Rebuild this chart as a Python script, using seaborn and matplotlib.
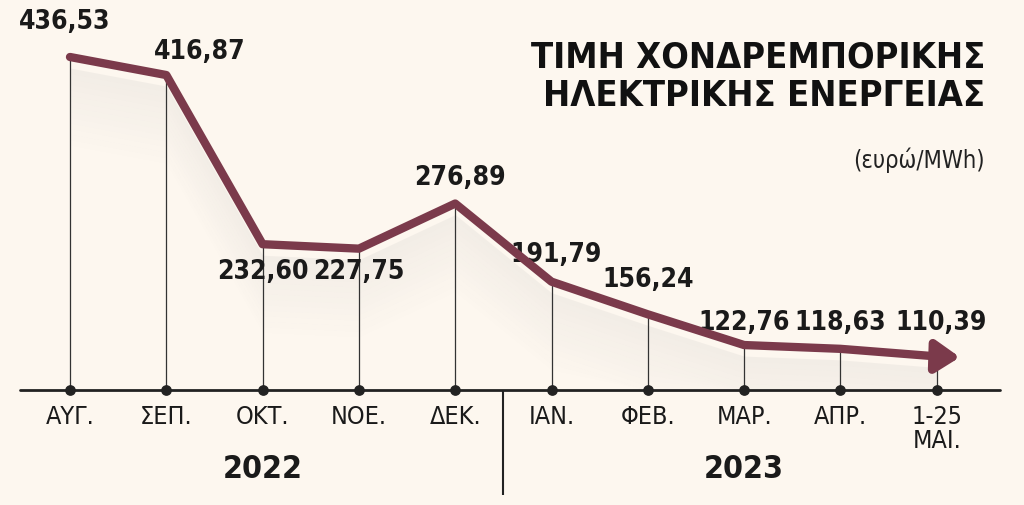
import matplotlib
matplotlib.use("Agg")
import matplotlib.pyplot as plt
import seaborn as sns
import pandas as pd
import numpy as np

months = ["ΑΥΓ.", "ΣΕΠ.", "ΟΚΤ.", "ΝΟΕ.", "ΔΕΚ.", "ΙΑΝ.", "ΦΕΒ.", "ΜΑΡ.", "ΑΠΡ.", "1-25\nΜΑΙ."]
values = [436.53, 416.87, 232.60, 227.75, 276.89, 191.79, 156.24, 122.76, 118.63, 110.39]
labels = ["436,53", "416,87", "232,60", "227,75", "276,89", "191,79", "156,24", "122,76", "118,63", "110,39"]
years = ["2022", "2023"]

sns.set_theme(style="white")
plt.rcParams['font.family'] = ['DejaVu Sans']
plt.rcParams['font.stretch'] = 'condensed'
bg = "#fdf7ef"
col = "#7b3a4b"

fig = plt.figure(figsize=(10.24, 5.05), dpi=100, facecolor=bg)
ax = fig.add_axes([0, 0, 1, 1], facecolor=bg)
ppu = 96.3
ax.set_xlim(-70/ppu, (1024-70)/ppu)
ypx = lambda py: 436.53 - (py-57)/0.918
ax.set_ylim(ypx(505), ypx(0))
base = ypx(390)
x = np.arange(len(values))
v = np.array(values)
df = pd.DataFrame({"x": x, "v": values})

# soft shadow below the line, fading toward the baseline
for i in range(14):
    y = v - 12 - i*6
    ax.fill_between(x, np.maximum(y - 6, base), np.maximum(y, base), color="#9a9a9a",
                    alpha=0.10 * (1 - i/14), lw=0, zorder=1)
ax.vlines(x, base, values, color="#333333", lw=0.9, zorder=2)
ax.axhline(base, xmin=20/1024, xmax=1000/1024, color="#222222", lw=2, zorder=3)
ax.scatter(x, [base]*len(x), color="#222222", s=45, zorder=5)
sns.lineplot(data=df, x="x", y="v", ax=ax, color=col, lw=6, zorder=4)
ax.annotate("", xy=(x[-1]+0.27, values[-1]-1), xytext=(x[-1]-0.05, values[-1]),
            arrowprops=dict(arrowstyle="-|>,head_width=0.8,head_length=1.2", color=col, lw=6), zorder=6)

lab_py = [22, 52, 272, 272, 178, 255, 280, 323, 323, 323]
dxs = [-0.05, 0.35, 0, 0, 0.05, 0.05, 0, 0, 0, 0.05]
fk = dict(fontweight="bold", color="#1a1a1a", fontstretch="condensed")
for i, (xi, t) in enumerate(zip(x, labels)):
    ax.text(xi + dxs[i], ypx(lab_py[i]), t, ha="center", va="center", fontsize=19, **fk)
for xi, m in zip(x, months):
    ax.text(xi, ypx(405), m, ha="center", va="top", fontsize=18, color="#1a1a1a", linespacing=1.0, fontstretch="condensed")
ax.text(2, ypx(470), years[0], ha="center", va="center", fontsize=23, **fk)
ax.text(7, ypx(470), years[1], ha="center", va="center", fontsize=23, **fk)
ax.vlines((503-70)/ppu, ypx(495), base, color="#222222", lw=1.5)

ax.text((985-70)/ppu, ypx(77), "ΤΙΜΗ ΧΟΝΔΡΕΜΠΟΡΙΚΗΣ\nΗΛΕΚΤΡΙΚΗΣ ΕΝΕΡΓΕΙΑΣ", ha="right", va="center",
        fontsize=26, fontweight="bold", color="#111111", linespacing=1.15, fontstretch="condensed")
ax.text((985-70)/ppu, ypx(160), "(ευρώ/MWh)", ha="right", va="center", fontsize=17, color="#222222", fontstretch="condensed")
ax.axis("off")
fig.savefig("out.png", dpi=100, facecolor=bg)
